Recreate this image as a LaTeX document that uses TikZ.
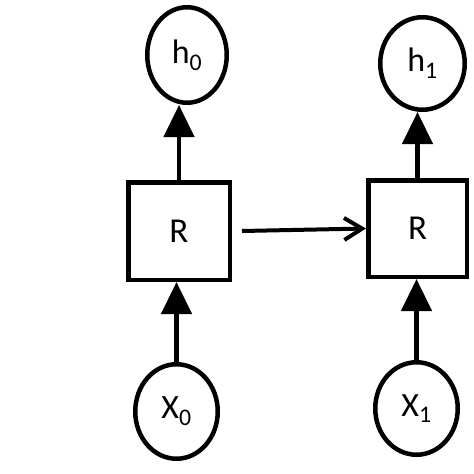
\documentclass[tikz,border=0pt]{standalone}
\usepackage{fontspec}
\setmainfont{Carlito}
\usetikzlibrary{shapes.geometric,arrows.meta}
\begin{document}
\begin{tikzpicture}[x=1pt,y=-1pt,
  cell/.style={draw,line width=4.5pt,inner sep=0pt,font=\fontsize{35}{38}\selectfont},
  vec/.style={draw,ellipse,line width=4.5pt,inner sep=0pt,font=\fontsize{34}{38}\selectfont},
  up/.style={line width=4.5pt,-{Triangle[width=30pt,length=32pt]}},
  rec/.style={line width=4pt,-{Straight Barb[length=18pt,width=22pt]}}]
\useasboundingbox (0,0) rectangle (474,474);
\node[cell,minimum width=101.5pt,minimum height=97.5pt] (b0) at (179,231) {R};
\node[cell,minimum width=98.5pt,minimum height=96.5pt] (b1) at (417.5,228.5) {R};
\node[vec,minimum width=79.5pt,minimum height=95.5pt] (h0) at (187,55) {h\textsubscript{0}};
\node[vec,minimum width=84.5pt,minimum height=92.5pt] (h1) at (422.5,63.5) {h\textsubscript{1}};
\node[vec,minimum width=82.5pt,minimum height=94.5pt] (x0) at (176.5,411.5) {X\textsubscript{0}};
\node[vec,minimum width=82.5pt,minimum height=92.5pt] (x1) at (416.5,408.5) {X\textsubscript{1}};
\draw[up] (b0.north) -- (b0.north |- h0.south);
\draw[up] (b1.north) -- (b1.north |- h1.south);
\draw[up] (x0.north) -- (x0.north |- b0.south);
\draw[up] (x1.north) -- (x1.north |- b1.south);
\draw[rec] ([xshift=10pt]b0.east) -- (b1.west);
\end{tikzpicture}
\end{document}
